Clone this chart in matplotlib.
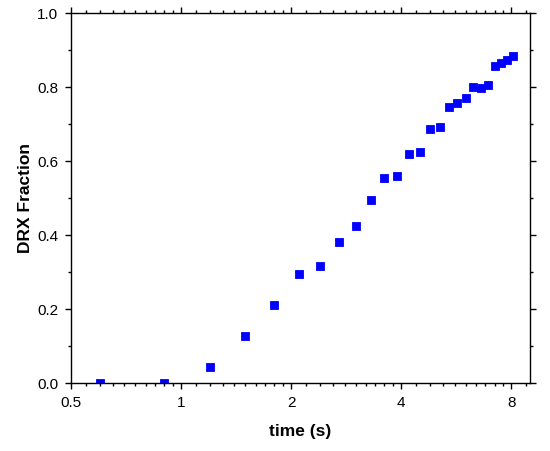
import numpy as np
import matplotlib.pyplot as plt
from matplotlib.ticker import FixedLocator, MultipleLocator

plt.rcParams['font.family'] = ['Liberation Sans', 'DejaVu Sans']

# DRX fraction measured against time
time_s = [0.6, 0.9, 1.2, 1.5, 1.8, 2.1, 2.4, 2.7, 3.0, 3.3, 3.6, 3.9, 4.2,
          4.5, 4.8, 5.1, 5.4, 5.7, 6.0, 6.3, 6.6, 6.9, 7.2, 7.5, 7.8, 8.1]
drx_fraction = [0.0, 0.0, 0.043, 0.129, 0.212, 0.295, 0.318, 0.381, 0.425,
                0.495, 0.554, 0.561, 0.619, 0.625, 0.686, 0.694, 0.747,
                0.758, 0.771, 0.802, 0.799, 0.807, 0.857, 0.867, 0.874, 0.885]

x_major = [0.5, 1, 2, 4, 8]
x_major_labels = ['0.5', '1', '2', '4', '8']
x_minor = ([0.5 + 0.05 * i for i in range(1, 10)] + [1 + 0.1 * i for i in range(1, 10)]
           + [2 + 0.2 * i for i in range(1, 10)] + [4 + 0.4 * i for i in range(1, 10)] + [8.8])

fig = plt.figure(figsize=(5.5, 4.51), dpi=100)
ax = fig.add_axes([0.129, 0.150, 0.8346, 0.8205])

ax.plot(time_s, drx_fraction, 's', color='#0000ff', markersize=5.5,
        markeredgewidth=0.6, markeredgecolor='#0000ff')

ax.set_xscale('log', base=2)
ax.set_xlim(0.5, 9.0)
ax.set_ylim(0.0, 1.0)
ax.xaxis.set_major_locator(FixedLocator(x_major))
ax.set_xticklabels(x_major_labels)
ax.xaxis.set_minor_locator(FixedLocator(x_minor))
ax.xaxis.set_minor_formatter(plt.NullFormatter())
ax.yaxis.set_major_locator(MultipleLocator(0.2))
ax.yaxis.set_minor_locator(MultipleLocator(0.1))
ax.yaxis.set_major_formatter(plt.FormatStrFormatter('%.1f'))

ax.tick_params(which='both', direction='out', top=True, right=True,
               labelsize=11, width=1.0, color='black', pad=4.5)
ax.tick_params(which='major', length=4.5)
ax.tick_params(which='minor', length=2.2)
for s in ax.spines.values():
    s.set_linewidth(1.0)

ax.set_xlabel('time (s)', fontsize=12.5, fontweight='bold', labelpad=10)
ax.set_ylabel('DRX Fraction', fontsize=12.5, fontweight='bold', labelpad=3)

fig.savefig('out.png', dpi=100)
